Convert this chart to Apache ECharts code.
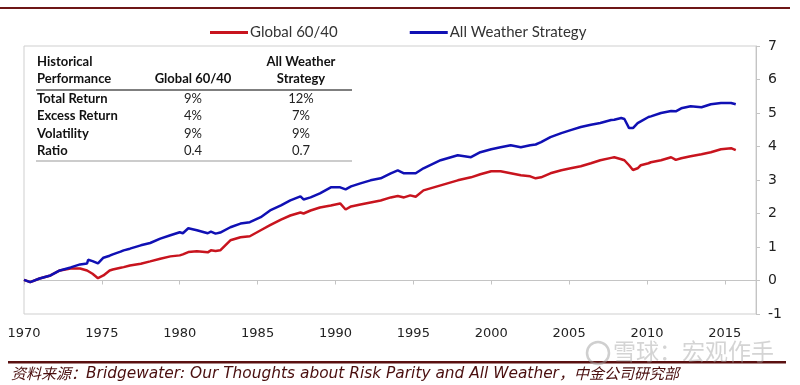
<!DOCTYPE html>
<html><head><meta charset="utf-8">
<script src="https://cdn.jsdelivr.net/npm/echarts@6/dist/echarts.min.js"></script>
<style>html,body{margin:0;padding:0;background:#fff}#c{width:800px;height:385px}</style>
</head><body><div id="c"></div>
<script>
var years = [1970.0,1970.4,1971.0,1971.7,1972.3,1973.0,1973.6,1974.05,1974.12,1974.4,1974.75,1975.1,1975.5,1975.7,1976.2,1976.4,1976.8,1977.5,1978.1,1978.75,1979.4,1980.0,1980.2,1980.55,1981.1,1981.8,1982.0,1982.3,1982.6,1983.25,1983.9,1984.5,1985.2,1985.8,1986.5,1987.1,1987.75,1987.95,1988.4,1989.0,1989.7,1990.3,1990.65,1991.0,1991.6,1992.25,1992.9,1993.55,1994.0,1994.4,1994.8,1995.15,1995.65,1996.75,1997.85,1998.7,1999.3,2000.0,2000.6,2001.25,2001.9,2002.5,2002.85,2003.2,2003.8,2004.5,2005.1,2005.75,2006.4,2007.0,2007.7,2007.9,2008.35,2008.55,2008.65,2008.85,2009.1,2009.15,2009.4,2009.6,2010.1,2010.25,2010.9,2011.55,2011.85,2012.2,2012.8,2013.5,2014.1,2014.75,2015.4,2015.7];
var global6040 = [0.02,-0.05,0.06,0.15,0.30,0.36,0.36,0.30,0.28,0.20,0.07,0.15,0.30,0.33,0.38,0.40,0.45,0.50,0.57,0.65,0.72,0.75,0.78,0.85,0.87,0.84,0.90,0.88,0.90,1.20,1.29,1.32,1.50,1.65,1.82,1.94,2.03,2.00,2.09,2.18,2.24,2.30,2.12,2.21,2.27,2.33,2.39,2.48,2.52,2.48,2.54,2.50,2.69,2.84,2.99,3.08,3.17,3.26,3.26,3.20,3.14,3.11,3.05,3.08,3.20,3.29,3.35,3.41,3.50,3.59,3.66,3.68,3.62,3.59,3.55,3.44,3.30,3.26,3.35,3.44,3.50,3.53,3.59,3.68,3.60,3.65,3.71,3.77,3.83,3.92,3.95,3.89];
var allWeather = [0.02,-0.05,0.06,0.15,0.30,0.39,0.48,0.51,0.62,0.58,0.51,0.68,0.74,0.78,0.86,0.90,0.95,1.05,1.12,1.25,1.35,1.44,1.41,1.56,1.50,1.41,1.46,1.40,1.43,1.59,1.70,1.74,1.89,2.09,2.24,2.39,2.51,2.42,2.48,2.60,2.78,2.78,2.72,2.81,2.90,2.99,3.05,3.20,3.29,3.20,3.20,3.20,3.35,3.59,3.74,3.68,3.83,3.92,3.98,4.04,3.98,4.04,4.06,4.13,4.28,4.40,4.49,4.58,4.65,4.70,4.79,4.80,4.85,4.82,4.79,4.55,4.55,4.56,4.70,4.75,4.88,4.90,5.00,5.06,5.05,5.14,5.20,5.17,5.26,5.30,5.30,5.26];
var seriesNames = ['Global 60/40','All Weather Strategy'];
var tableHeader1 = ['Historical','','All Weather'];
var tableHeader2 = ['Performance','Global 60/40','Strategy'];
var tableRowLabels = ['Total Return','Excess Return','Volatility','Ratio'];
var tableGlobal = ['9%','4%','9%','0.4'];
var tableAllWeather = ['12%','7%','9%','0.7'];
var sourcePrefix = '资料来源：';
var sourceMain = 'Bridgewater: Our Thoughts about Risk Parity and All Weather';
var sourceSuffix = '，中金公司研究部';
var watermark = '雪球：宏观作手';

function pairs(xs, ys){ return xs.map(function(x,i){return [x, ys[i]];}); }

var chart = echarts.init(document.getElementById('c'), null, {renderer:'canvas'});
var tf = 'Lato, "Open Sans", sans-serif';
var graphics = [
  {type:'rect', shape:{x:0,y:7,width:790,height:2}, style:{fill:'#6e1717'}},
  {type:'rect', shape:{x:8,y:361,width:778,height:2.5}, style:{fill:'#5a1010'}},
  {type:'circle', shape:{cx:598,cy:353,r:11}, style:{fill:'none', stroke:'rgba(160,160,160,0.5)', lineWidth:2.5}},
  {type:'text', left:613, top:340, style:{text:watermark, fill:'rgba(160,160,160,0.45)', font:'23px "Noto Sans CJK SC", sans-serif'}},
  {type:'text', left:11, top:366, style:{
    text:'{a|'+sourcePrefix+'}{b|'+sourceMain+'}{a|'+sourceSuffix+'}',
    rich:{
      a:{fontFamily:'"Noto Sans CJK SC", sans-serif', fontStyle:'italic', fontSize:15, fill:'#4a0f0f', color:'#4a0f0f'},
      b:{fontFamily:'"DejaVu Sans", sans-serif', fontStyle:'italic', fontSize:15.4, fill:'#4a0f0f', color:'#4a0f0f'}
    }}},
  {type:'line', shape:{x1:36,y1:90,x2:352,y2:90}, style:{stroke:'#555',lineWidth:1.5}},
  {type:'line', shape:{x1:36,y1:161,x2:352,y2:161}, style:{stroke:'#999',lineWidth:1}}
];
var colX = [37,193,301];
[tableHeader1, tableHeader2].forEach(function(row, r){
  row.forEach(function(t, c){
    if(!t) return;
    graphics.push({type:'text', x:colX[c], y:62 + r*17, style:{text:t, fill:'#111', font:'bold 13px '+tf, textAlign: c===0?'left':'center', textVerticalAlign:'middle'}});
  });
});
tableRowLabels.forEach(function(t,i){
  var y = 99 + i*17.3;
  graphics.push({type:'text', x:colX[0], y:y, style:{text:t, fill:'#111', font:'bold 13px '+tf, textAlign:'left', textVerticalAlign:'middle'}});
  graphics.push({type:'text', x:colX[1], y:y, style:{text:tableGlobal[i], fill:'#222', font:'13px '+tf, textAlign:'center', textVerticalAlign:'middle'}});
  graphics.push({type:'text', x:colX[2], y:y, style:{text:tableAllWeather[i], fill:'#222', font:'13px '+tf, textAlign:'center', textVerticalAlign:'middle'}});
});

chart.setOption({
  animation:false,
  backgroundColor:'#fff',
  legend:{
    top:20, left:205, itemWidth:38, itemHeight:3, itemGap:72, icon:'rect',
    textStyle:{fontFamily:tf, fontSize:15, color:'#333', padding:[0,0,0,-3]},
    data: seriesNames
  },
  grid:{left:24, right:44, top:46, bottom:71, show:true, borderColor:'#cfcfcf', borderWidth:1},
  xAxis:[
    {type:'value', min:1970, max:2017, interval:5, axisLine:{onZero:true, lineStyle:{color:'#c4c4c4'}},
     axisTick:{show:true, length:4, lineStyle:{color:'#c4c4c4'}}, axisLabel:{show:false}, splitLine:{show:false}},
    {type:'value', min:1970, max:2017, interval:5, position:'bottom', axisLine:{show:false, onZero:false}, axisTick:{show:false},
     axisLabel:{show:true, margin:13, fontFamily:'"DejaVu Sans", sans-serif', fontSize:13, color:'#222', showMaxLabel:false,
       formatter:function(v){ return (v % 5 === 0) ? String(v) : ''; }}, splitLine:{show:false}}
  ],
  yAxis:{type:'value', position:'right', min:-1, max:7, interval:1,
    axisLine:{show:true, lineStyle:{color:'#c4c4c4'}}, axisTick:{show:true, length:4, lineStyle:{color:'#c4c4c4'}},
    axisLabel:{margin:12, fontFamily:'"DejaVu Sans", sans-serif', fontSize:14, color:'#222'}, splitLine:{show:false}},
  series:[
    {name:seriesNames[0], type:'line', xAxisIndex:0, data:pairs(years, global6040), showSymbol:false, smooth:false,
     lineStyle:{color:'#c8141e', width:2.5}, itemStyle:{color:'#c8141e'}},
    {name:seriesNames[1], type:'line', xAxisIndex:0, data:pairs(years, allWeather), showSymbol:false, smooth:false,
     lineStyle:{color:'#1010b4', width:2.5}, itemStyle:{color:'#1010b4'}}
  ],
  graphic: graphics
});
</script></body></html>
